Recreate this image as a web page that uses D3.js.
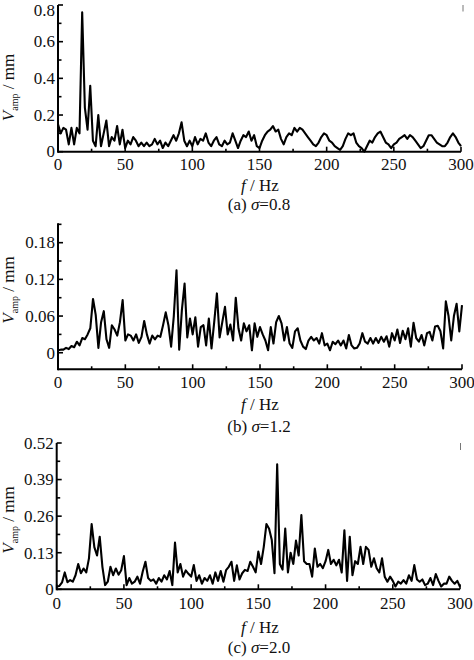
<!DOCTYPE html>
<html>
<head>
<meta charset="utf-8">
<script src="https://cdn.jsdelivr.net/npm/d3@7"></script>
<style>
  html, body { margin: 0; padding: 0; background: #fff; }
  svg { display: block; }
  text { font-family: "Liberation Serif", "Times New Roman", serif; fill: #111; }
</style>
</head>
<body>
<svg id="chart" width="474" height="660"></svg>
<script>
// ---------------- data ----------------
const freq = d3.range(0, 301, 2); // frequency grid, Hz

const ampA = [
  0.15,0.10,0.13,0.12,0.04,0.13,0.04,0.13,0.10,0.76,
  0.24,0.12,0.36,0.06,0.03,0.20,0.03,0.10,0.17,0.03,
  0.08,0.06,0.14,0.04,0.12,0.02,0.06,0.04,0.08,0.06,
  0.03,0.05,0.03,0.05,0.03,0.04,0.07,0.04,0.06,0.02,
  0.05,0.03,0.06,0.09,0.06,0.10,0.16,0.06,0.03,0.06,
  0.03,0.08,0.04,0.07,0.06,0.10,0.05,0.03,0.06,0.08,
  0.04,0.03,0.06,0.04,0.05,0.10,0.06,0.02,0.06,0.09,
  0.08,0.11,0.06,0.09,0.03,0.02,0.06,0.09,0.11,0.12,
  0.14,0.11,0.12,0.07,0.04,0.08,0.10,0.09,0.13,0.11,
  0.13,0.12,0.10,0.08,0.06,0.04,0.03,0.05,0.08,0.10,
  0.09,0.06,0.05,0.03,0.02,0.01,0.03,0.07,0.10,0.09,
  0.10,0.05,0.03,0.02,0.00,0.03,0.06,0.05,0.08,0.10,
  0.11,0.08,0.05,0.04,0.02,0.04,0.05,0.07,0.08,0.09,
  0.07,0.09,0.08,0.06,0.04,0.02,0.03,0.06,0.09,0.09,
  0.07,0.05,0.04,0.03,0.03,0.05,0.08,0.10,0.08,0.05,
  0.03
];

const ampB = [
  0.004,0.005,0.005,0.008,0.006,0.011,0.009,0.018,0.012,0.024,
  0.022,0.030,0.040,0.088,0.062,0.008,0.050,0.068,0.022,0.008,
  0.045,0.038,0.028,0.050,0.086,0.020,0.030,0.028,0.020,0.030,
  0.016,0.026,0.052,0.030,0.015,0.028,0.022,0.028,0.026,0.045,
  0.066,0.045,0.010,0.060,0.135,0.005,0.070,0.113,0.025,0.056,
  0.030,0.058,0.010,0.042,0.045,0.012,0.056,0.007,0.050,0.097,
  0.025,0.050,0.075,0.030,0.046,0.020,0.090,0.040,0.020,0.048,
  0.035,0.045,0.004,0.048,0.026,0.042,0.030,0.020,0.004,0.042,
  0.015,0.050,0.060,0.048,0.020,0.042,0.015,0.008,0.035,0.040,
  0.020,0.010,0.006,0.020,0.026,0.020,0.024,0.015,0.032,0.012,
  0.015,0.004,0.018,0.014,0.020,0.012,0.020,0.007,0.029,0.012,
  0.007,0.008,0.015,0.032,0.018,0.015,0.024,0.015,0.024,0.016,
  0.026,0.018,0.027,0.010,0.032,0.020,0.038,0.016,0.036,0.022,
  0.040,0.010,0.049,0.024,0.018,0.029,0.012,0.032,0.034,0.020,
  0.043,0.044,0.035,0.007,0.084,0.060,0.020,0.060,0.080,0.035,
  0.078
];

const ampC = [
  0.010,0.012,0.025,0.060,0.025,0.033,0.027,0.050,0.090,0.057,
  0.074,0.060,0.110,0.232,0.150,0.120,0.187,0.080,0.015,0.027,
  0.080,0.050,0.074,0.052,0.068,0.118,0.015,0.040,0.020,0.027,
  0.045,0.020,0.063,0.098,0.040,0.030,0.035,0.020,0.040,0.027,
  0.050,0.035,0.065,0.015,0.166,0.060,0.090,0.045,0.067,0.055,
  0.045,0.086,0.030,0.050,0.020,0.040,0.030,0.050,0.020,0.060,
  0.030,0.065,0.027,0.068,0.080,0.098,0.030,0.085,0.035,0.057,
  0.069,0.065,0.098,0.080,0.060,0.134,0.090,0.150,0.232,0.215,
  0.175,0.057,0.444,0.090,0.070,0.216,0.060,0.130,0.090,0.173,
  0.120,0.264,0.100,0.090,0.090,0.045,0.145,0.080,0.090,0.075,
  0.100,0.140,0.090,0.105,0.085,0.105,0.060,0.210,0.030,0.187,
  0.050,0.100,0.090,0.151,0.090,0.151,0.140,0.080,0.110,0.075,
  0.060,0.110,0.045,0.027,0.045,0.030,0.010,0.027,0.020,0.033,
  0.020,0.050,0.030,0.086,0.035,0.027,0.035,0.015,0.020,0.040,
  0.015,0.054,0.030,0.010,0.020,0.020,0.045,0.030,0.020,0.030,
  0.009
];

const xTicks = [0, 50, 100, 150, 200, 250, 300];
const xMinorTicks = [25, 75, 125, 175, 225, 275];
const yTicksA = [0, 0.2, 0.4, 0.6, 0.8];
const yMinorA = [0.1, 0.3, 0.5, 0.7];
const yTicksB = [0, 0.06, 0.12, 0.18];
const yMinorB = [0.03, 0.09, 0.15, 0.21];
const yTicksC = [0, 0.13, 0.26, 0.39, 0.52];
const yMinorC = [0.065, 0.195, 0.325, 0.455];
const captionLetters = ["(a)", "(b)", "(c)"];
const sigmaValues = ["0.8", "1.2", "2.0"];

// ---------------- layout ----------------
const panels = [
  { data: ampA, ticks: yTicksA, minor: yMinorA, fmt: d => d === 0 ? "0" : d3.format(".1f")(d),
    xl: 58, xr: 461, domain: [0, 0.8], yr: [151.7, 5], axisY: 151.7,
    tickBase: 170, ylabCY: 87.5, xlabBase: 191, capBase: 210, mark: [463, 5, 11.5] },
  { data: ampB, ticks: yTicksB, minor: yMinorB, fmt: d => d === 0 ? "0" : d3.format(".2f")(d),
    xl: 58, xr: 462, domain: [-0.0271, 0.2117], yr: [369.3, 223.3], axisY: 369.3,
    tickBase: 388, ylabCY: 290, xlabBase: 410, capBase: 432, mark: null },
  { data: ampC, ticks: yTicksC, minor: yMinorC, fmt: d => d === 0 ? "0" : d3.format(".2f")(d),
    xl: 56.7, xr: 460, domain: [0, 0.52], yr: [589.3, 443], axisY: 589.3,
    tickBase: 609, ylabCY: 520, xlabBase: 633, capBase: 653, mark: [460.5, 443, 450] }
];

const svg = d3.select("#chart");
const FS = 17;

panels.forEach((p, i) => {
  const x = d3.scaleLinear().domain([0, 300]).range([p.xl, p.xr]);
  const y = d3.scaleLinear().domain(p.domain).range(p.yr);
  const g = svg.append("g");

  // curve
  const line = d3.line().x((d, j) => x(freq[j])).y(d => y(d));
  g.append("path").datum(p.data)
    .attr("d", line)
    .attr("fill", "none")
    .attr("stroke", "#000")
    .attr("stroke-width", 2.1)
    .attr("stroke-linejoin", "round");

  // x axis line
  g.append("line")
    .attr("x1", p.xl).attr("x2", p.xr)
    .attr("y1", p.axisY).attr("y2", p.axisY)
    .attr("stroke", "#000").attr("stroke-width", 2);
  // y axis line
  g.append("line")
    .attr("x1", p.xl).attr("x2", p.xl)
    .attr("y1", p.axisY + 1).attr("y2", p.yr[1])
    .attr("stroke", "#000").attr("stroke-width", 2);

  // x ticks (inward)
  g.selectAll(".xt").data(xTicks).enter().append("line")
    .attr("x1", d => x(d)).attr("x2", d => x(d))
    .attr("y1", p.axisY).attr("y2", p.axisY - 5)
    .attr("stroke", "#000").attr("stroke-width", 1.6);
  g.selectAll(".xm").data(xMinorTicks).enter().append("line")
    .attr("x1", d => x(d)).attr("x2", d => x(d))
    .attr("y1", p.axisY).attr("y2", p.axisY - 3)
    .attr("stroke", "#000").attr("stroke-width", 1.6);

  // y ticks (inward)
  g.selectAll(".yt").data(p.ticks).enter().append("line")
    .attr("x1", p.xl).attr("x2", p.xl + 5)
    .attr("y1", d => y(d)).attr("y2", d => y(d))
    .attr("stroke", "#000").attr("stroke-width", 1.6);
  g.selectAll(".ym").data(p.minor).enter().append("line")
    .attr("x1", p.xl).attr("x2", p.xl + 3.5)
    .attr("y1", d => y(d)).attr("y2", d => y(d))
    .attr("stroke", "#000").attr("stroke-width", 1.6);

  // x tick labels
  g.selectAll(".xl").data(xTicks).enter().append("text")
    .attr("x", d => x(d)).attr("y", p.tickBase)
    .attr("text-anchor", "middle")
    .attr("font-size", FS)
    .text(d => d);

  // y tick labels (kept inside the page at the top)
  g.selectAll(".yl").data(p.ticks).enter().append("text")
    .attr("x", p.xl - 3).attr("y", d => Math.max(y(d), 10))
    .attr("dy", "0.34em")
    .attr("text-anchor", "end")
    .attr("font-size", FS)
    .text(p.fmt);

  // y axis label
  const yl = g.append("text")
    .attr("transform", `translate(14,${p.ylabCY}) rotate(-90)`)
    .attr("text-anchor", "middle")
    .attr("font-size", FS);
  yl.append("tspan").attr("font-style", "italic").text("V");
  yl.append("tspan").attr("font-size", 10).attr("dy", 4).text("amp");
  yl.append("tspan").attr("dy", -4).text(" / mm");

  // x axis label
  const xlab = g.append("text")
    .attr("x", 260).attr("y", p.xlabBase)
    .attr("text-anchor", "middle")
    .attr("font-size", FS);
  xlab.append("tspan").attr("font-style", "italic").text("f");
  xlab.append("tspan").text(" / Hz");

  // caption
  const cap = g.append("text")
    .attr("x", 259).attr("y", p.capBase)
    .attr("text-anchor", "middle")
    .attr("font-size", FS);
  cap.append("tspan").text(captionLetters[i] + " ");
  cap.append("tspan").attr("font-style", "italic").text("σ");
  cap.append("tspan").text("=" + sigmaValues[i]);

  // small stray mark at top right
  if (p.mark) {
    g.append("line")
      .attr("x1", p.mark[0]).attr("x2", p.mark[0])
      .attr("y1", p.mark[1]).attr("y2", p.mark[2])
      .attr("stroke", "#777").attr("stroke-width", 1);
  }
});
</script>
</body>
</html>
